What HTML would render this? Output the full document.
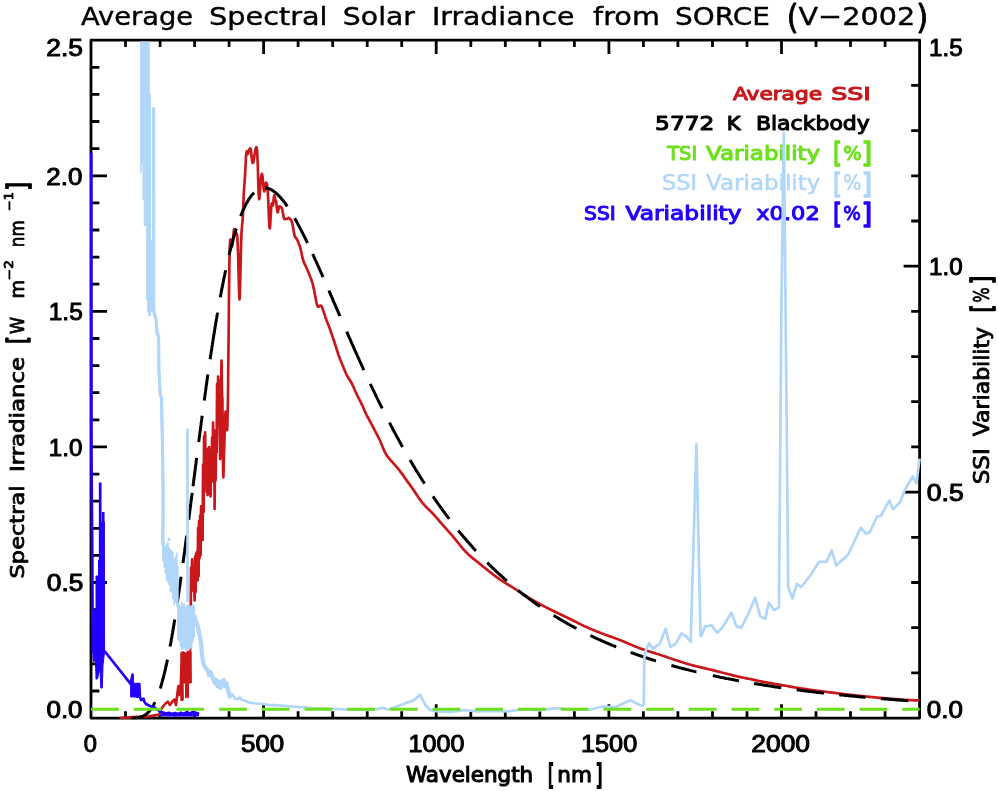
<!DOCTYPE html>
<html><head><meta charset="utf-8"><title>Average Spectral Solar Irradiance from SORCE</title>
<style>html,body{margin:0;padding:0;background:#fff;width:998px;height:791px;overflow:hidden}svg{display:block}</style>
</head><body>
<svg width="998" height="791" viewBox="0 0 998 791">
<rect width="998" height="791" fill="#fff"/>
<defs><clipPath id="pc"><rect x="89.5" y="38.7" width="831.6" height="680.9"/></clipPath><clipPath id="pc2"><rect x="89.5" y="41.4" width="831.6" height="678.2"/></clipPath></defs>
<rect x="91.0" y="40.2" width="828.6" height="677.9" fill="none" stroke="#000" stroke-width="2.8" stroke-linejoin="round"/>
<path d="M125.5 718.1v-6.9M125.5 40.2v6.9M160.1 718.1v-6.9M160.1 40.2v6.9M194.6 718.1v-6.9M194.6 40.2v6.9M229.1 718.1v-6.9M229.1 40.2v6.9M263.6 718.1v-13.8M263.6 40.2v13.8M298.1 718.1v-6.9M298.1 40.2v6.9M332.7 718.1v-6.9M332.7 40.2v6.9M367.2 718.1v-6.9M367.2 40.2v6.9M401.7 718.1v-6.9M401.7 40.2v6.9M436.2 718.1v-13.8M436.2 40.2v13.8M470.8 718.1v-6.9M470.8 40.2v6.9M505.3 718.1v-6.9M505.3 40.2v6.9M539.8 718.1v-6.9M539.8 40.2v6.9M574.4 718.1v-6.9M574.4 40.2v6.9M608.9 718.1v-13.8M608.9 40.2v13.8M643.4 718.1v-6.9M643.4 40.2v6.9M677.9 718.1v-6.9M677.9 40.2v6.9M712.5 718.1v-6.9M712.5 40.2v6.9M747.0 718.1v-6.9M747.0 40.2v6.9M781.5 718.1v-13.8M781.5 40.2v13.8M816.0 718.1v-6.9M816.0 40.2v6.9M850.5 718.1v-6.9M850.5 40.2v6.9M885.1 718.1v-6.9M885.1 40.2v6.9M91.0 691.0h8.4M91.0 663.9h8.4M91.0 636.8h8.4M91.0 609.6h8.4M91.0 582.5h16.0M91.0 555.4h8.4M91.0 528.3h8.4M91.0 501.2h8.4M91.0 474.1h8.4M91.0 446.9h16.0M91.0 419.8h8.4M91.0 392.7h8.4M91.0 365.6h8.4M91.0 338.5h8.4M91.0 311.4h16.0M91.0 284.2h8.4M91.0 257.1h8.4M91.0 230.0h8.4M91.0 202.9h8.4M91.0 175.8h16.0M91.0 148.7h8.4M91.0 121.5h8.4M91.0 94.4h8.4M91.0 67.3h8.4M919.6 672.9h-8.4M919.6 627.7h-8.4M919.6 582.5h-8.4M919.6 537.3h-8.4M919.6 492.1h-16.0M919.6 446.9h-8.4M919.6 401.7h-8.4M919.6 356.6h-8.4M919.6 311.4h-8.4M919.6 266.2h-16.0M919.6 221.0h-8.4M919.6 175.8h-8.4M919.6 130.6h-8.4M919.6 85.4h-8.4" stroke="#000" stroke-width="2.8" fill="none"/>
<g clip-path="url(#pc)" fill="none" stroke-linejoin="round">
<polyline points="119.8,718.0 125.0,717.6 133.0,717.2 149.0,716.3 160.3,714.3 160.5,710.0 163.0,706.5 165.5,703.5 167.8,701.7 170.0,705.0 172.3,701.5 174.5,699.5 176.0,705.0 178.4,686.0 179.5,695.0 180.8,686.0 181.5,666.0 182.5,700.0" stroke="#c8181b" stroke-width="2.7"/>
<polygon points="180.8,652.5 183.5,651.5 185.5,653.0 188.0,651.0 191.0,652.0 191.0,683.0 188.5,683.0 188.5,697.6 185.5,697.6 185.5,683.0 183.0,683.0 183.0,700.5 180.8,700.5" fill="#c8181b" stroke="#c8181b" stroke-width="1"/>
<polyline points="190.5,683.0 190.1,660.0 190.1,624.3 190.6,624.7 191.1,567.7 191.6,586.6 192.1,559.4 192.6,579.2 193.1,571.1 193.6,590.9 194.1,582.7 194.6,600.5 195.1,556.6 195.6,592.2 196.1,553.6 196.6,566.4 197.1,551.6 197.6,580.5 198.1,527.9 198.6,576.2 199.1,521.0 199.6,558.2 200.1,515.5 200.6,555.1 201.1,506.4 201.6,533.3 202.1,507.6 202.6,540.0 203.1,464.7 203.6,512.1 204.1,436.3 204.6,464.9 205.1,432.4 205.6,464.0 206.1,454.4 206.6,491.9 207.1,459.0 207.6,495.1 208.1,448.6 208.6,461.0 209.1,447.1 209.6,493.7 210.1,451.4 210.6,496.5 211.1,463.8 211.6,472.2 212.1,437.5 212.6,463.7 213.1,422.6 213.6,481.9 214.1,430.3 214.6,509.0 215.1,442.1 215.6,480.2 216.1,437.9 216.6,452.4 217.1,383.9 217.6,425.8 218.1,376.7 218.6,404.7 219.1,380.6 219.4,412.0 219.6,425.4 219.8,440.2 220.0,452.8 220.1,459.1 220.3,456.6 220.5,446.3 220.6,432.7 220.8,419.9 221.0,406.8 221.2,389.7 221.3,371.1 221.5,360.6 221.7,365.1 221.8,380.4 222.0,393.9 222.2,397.5 222.4,398.4 222.5,409.5 222.7,430.0 222.9,452.3 223.1,469.4 223.2,477.3 223.4,476.9 223.6,471.3 223.7,464.1 223.9,457.3 224.1,451.2 224.3,446.2 224.4,441.1 224.6,435.7 224.8,430.0 225.0,424.1 225.1,418.9 225.3,414.7 225.5,412.3 225.6,411.7 225.8,411.8 226.0,413.5 226.2,416.4 226.3,420.1 226.5,423.9 226.7,427.3 226.9,429.6 227.0,430.2 227.2,428.8 227.4,425.1 227.5,419.0 227.7,410.4 227.9,399.5 228.1,386.2 228.2,371.0 228.4,354.4 228.6,336.9 228.8,319.4 228.9,302.5 229.1,287.0 229.3,273.5 229.4,262.4 229.6,253.7 229.8,247.4 230.0,243.1 230.1,240.6 230.3,239.6 230.5,239.7 230.7,240.5 230.8,241.9 231.0,243.3 231.2,244.6 231.3,245.7 231.5,246.5 231.7,246.9 231.9,246.9 232.0,246.5 232.2,245.8 232.4,244.8 232.6,243.4 232.7,241.9 232.9,240.1 233.1,238.2 233.2,236.4 233.4,234.5 233.6,232.9 233.8,231.5 233.9,230.4 234.1,229.6 234.3,229.2 234.5,229.2 234.6,229.5 234.8,230.1 235.0,230.9 235.1,231.9 235.3,232.9 235.5,233.7 235.7,234.3 235.8,234.6 236.0,234.5 236.4,234.0 236.7,233.6 237.0,234.6 237.4,238.0 237.7,244.2 238.1,253.7 238.4,266.5 238.8,281.0 239.1,293.4 239.5,299.4 239.8,296.2 240.1,285.1 240.5,269.7 240.8,254.1 241.2,241.3 241.5,232.6 241.9,227.5 242.2,224.3 242.6,220.7 242.9,214.7 243.3,206.5 243.6,198.1 243.9,191.2 244.3,186.0 244.6,181.6 245.0,176.6 245.3,170.3 245.7,163.0 246.0,156.4 246.4,152.9 246.7,151.4 247.1,152.1 247.4,153.5 247.7,154.1 248.1,153.3 248.4,151.8 248.8,150.5 249.1,149.8 249.5,149.3 249.8,148.8 250.2,148.4 250.5,148.6 250.9,150.2 251.2,153.0 251.5,156.4 251.9,159.4 252.2,161.7 252.6,162.9 252.9,163.0 253.3,162.3 253.6,160.7 254.0,158.5 254.3,156.3 254.6,154.0 255.0,152.1 255.3,150.4 255.7,148.9 256.0,147.7 256.4,147.2 256.7,148.2 257.1,151.1 257.4,156.8 257.8,165.7 258.1,176.7 258.4,187.7 258.8,195.9 259.1,199.2 259.5,197.6 259.8,193.0 260.2,187.7 260.5,183.2 260.9,179.6 261.2,176.7 261.6,174.7 261.9,173.9 262.2,174.7 262.6,177.2 262.9,180.9 263.3,184.9 263.6,188.5 264.0,190.7 264.3,191.4 264.7,190.3 265.0,188.0 265.4,185.4 265.7,183.5 266.0,182.7 266.4,182.8 266.7,183.6 267.1,185.1 267.4,187.7 267.8,191.9 268.1,198.0 268.5,205.7 268.8,214.2 269.1,222.0 269.5,227.3 269.8,228.4 270.2,225.3 270.5,219.2 270.9,212.6 271.2,207.3 271.6,204.2 271.9,203.5 272.3,204.6 272.6,205.7 272.9,205.5 273.3,203.1 273.6,199.4 274.0,196.4 274.3,195.4 274.7,196.4 275.0,198.3 275.4,199.6 275.7,200.5 276.1,201.5 276.4,203.4 276.7,206.3 277.1,209.6 277.4,212.0 277.8,212.4 278.1,211.2 278.5,209.3 278.8,207.5 279.2,206.6 279.5,206.4 279.9,206.7 280.2,207.0 280.5,207.2 280.9,207.3 281.2,207.4 281.6,207.7 281.9,208.4 282.3,209.6 282.6,211.4 283.0,213.5 283.3,215.6 283.6,217.3 284.0,218.4 284.3,219.0 284.7,219.1 285.0,219.0 285.4,218.9 285.7,218.8 286.1,218.9 286.4,219.0 286.8,219.0 287.1,218.9 287.4,218.8 287.8,218.5 288.1,218.2 288.5,218.0 288.8,217.9 289.2,218.1 289.5,218.4 289.9,218.8 290.2,219.2 290.6,219.6 290.9,220.1 291.2,220.5 291.6,221.1 291.9,222.0 292.3,223.2 292.6,224.9 293.0,226.9 293.3,229.1 293.7,231.3 294.0,233.2 294.4,234.8 294.7,236.0 295.0,236.8 295.4,237.3 295.7,237.7 296.1,238.0 296.4,238.4 296.8,238.9 297.1,239.5 297.5,240.3 297.8,241.1 298.1,242.0 298.5,242.9 298.8,243.8 299.2,244.7 299.5,245.6 299.9,246.6 300.2,247.8 300.6,249.0 300.9,250.4 301.3,252.0 301.6,253.5 301.9,255.2 302.3,256.8 302.6,258.2 303.0,259.6 303.3,260.8 303.7,261.8 304.0,262.7 304.4,263.4 304.7,264.1 305.1,264.8 305.4,265.5 305.7,266.2 306.1,266.9 306.4,267.6 306.8,268.4 307.1,269.2 307.5,270.1 307.8,270.9 308.2,271.7 308.5,272.6 308.9,273.4 309.2,274.3 309.5,275.1 309.9,276.0 310.2,276.8 310.6,277.7 310.9,278.6 311.3,279.5 311.6,280.5 312.0,281.5 312.3,282.7 312.7,283.9 313.0,285.2 313.3,286.7 313.7,288.2 314.0,289.8 314.4,291.5 314.7,293.3 315.1,295.2 315.4,297.1 315.8,299.0 316.1,300.8 316.4,302.5 316.8,303.9 317.1,305.1 317.5,305.9 317.8,306.5 318.2,306.7 318.5,306.7 318.9,306.5 319.2,306.2 319.6,305.9 319.9,305.7 320.2,305.5 320.6,305.5 320.9,305.7 321.3,306.0 321.6,306.5 322.0,307.2 322.3,308.0 322.7,308.9 323.0,309.8 323.4,310.8 323.7,311.8 324.0,312.9 324.4,313.9 324.7,315.0 325.1,316.1 325.4,317.1 325.8,318.2 326.1,319.1 326.5,320.1 326.8,321.0 327.2,321.9 327.5,322.8 327.8,323.7 328.2,324.5 328.5,325.4 328.9,326.2 329.2,327.1 329.6,328.0 329.9,328.9 330.3,329.9 330.6,330.9 330.9,331.9 331.3,332.9 331.6,333.9 332.0,335.0 332.3,336.0 333.4,339.0 334.4,342.0 335.4,345.2 336.5,348.6 337.5,351.9 338.5,355.1 339.6,357.9 340.6,360.5 341.7,363.0 342.7,365.4 343.7,368.0 344.8,370.6 345.8,373.0 346.8,375.2 347.9,377.0 348.9,378.7 349.9,380.3 351.0,382.0 352.0,383.9 353.0,386.0 354.1,388.4 355.1,390.8 356.2,393.1 357.2,395.3 358.2,397.3 359.3,399.3 360.3,401.3 361.3,403.4 362.4,405.6 363.4,408.0 364.4,410.3 365.5,412.6 366.5,414.8 367.5,416.8 368.6,418.7 369.6,420.6 370.7,422.5 371.7,424.5 372.7,426.5 373.8,428.5 374.8,430.5 375.8,432.5 376.9,434.4 377.9,436.3 378.9,438.3 380.0,440.5 381.0,442.9 382.0,445.5 383.1,448.0 384.1,450.5 385.2,452.6 386.2,454.5 387.2,456.1 388.3,457.4 389.3,458.7 390.3,459.9 391.4,461.0 392.4,462.2 393.4,463.4 394.5,464.5 395.5,465.7 396.5,466.9 397.6,468.1 398.6,469.4 399.7,470.7 400.7,472.1 401.7,473.4 402.8,474.9 403.8,476.3 404.8,477.8 405.9,479.2 406.9,480.7 407.9,482.1 409.0,483.6 410.0,485.0 411.0,486.4 412.1,487.9 413.1,489.4 414.2,490.9 415.2,492.5 416.2,494.1 417.3,495.6 418.3,497.2 419.3,498.7 420.4,500.1 421.4,501.5 422.4,502.8 423.5,504.0 424.5,505.2 425.5,506.3 426.6,507.4 427.6,508.4 428.7,509.4 429.7,510.3 430.7,511.4 431.8,512.4 432.8,513.5 433.8,514.6 434.9,515.8 435.9,517.0 436.9,518.2 438.0,519.4 439.0,520.6 440.0,521.8 441.1,523.0 442.1,524.2 443.2,525.4 444.2,526.5 445.2,527.7 446.3,528.9 447.3,530.0 448.3,531.2 449.4,532.4 450.4,533.5 451.4,534.7 452.5,535.9 453.5,537.2 454.5,538.4 455.6,539.7 456.6,541.0 457.7,542.2 458.7,543.5 459.7,544.8 460.8,546.1 461.8,547.3 462.8,548.6 463.9,549.8 464.9,550.9 465.9,552.1 467.0,553.1 468.0,554.2 469.0,555.1 470.1,556.1 471.1,556.9 472.2,557.8 473.2,558.6 474.2,559.4 475.3,560.2 476.3,561.0 477.3,561.9 478.4,562.7 479.4,563.5 480.4,564.4 481.5,565.2 482.5,566.1 483.5,566.9 484.6,567.7 485.6,568.5 486.7,569.4 487.7,570.2 488.7,571.0 489.8,571.8 490.8,572.6 491.8,573.4 492.9,574.3 493.9,575.0 494.9,575.8 496.0,576.6 497.0,577.4 498.0,578.1 499.1,578.9 500.1,579.6 501.2,580.3 502.2,580.9 503.2,581.6 504.3,582.3 505.3,582.9 506.3,583.6 507.4,584.2 508.4,584.8 509.4,585.4 510.5,586.1 511.5,586.7 512.6,587.3 513.6,588.0 514.6,588.7 515.7,589.3 516.7,590.0 517.7,590.7 518.8,591.4 519.8,592.1 520.8,592.7 521.9,593.4 522.9,594.0 523.9,594.7 525.0,595.3 526.0,596.0 527.1,596.6 528.1,597.3 529.1,597.9 530.2,598.5 531.2,599.2 532.2,599.8 533.3,600.4 534.3,601.0 535.3,601.6 536.4,602.1 537.4,602.7 538.4,603.3 539.5,603.8 540.5,604.4 541.6,604.9 542.6,605.5 543.6,606.0 544.7,606.6 545.7,607.1 546.7,607.7 547.8,608.2 548.8,608.7 549.8,609.3 550.9,609.8 551.9,610.3 552.9,610.8 554.0,611.3 555.0,611.8 556.1,612.3 557.1,612.8 558.1,613.3 559.2,613.8 560.2,614.2 561.2,614.7 562.3,615.2 563.3,615.7 564.3,616.2 565.4,616.7 566.4,617.2 567.4,617.7 568.5,618.2 569.5,618.7 570.6,619.2 571.6,619.8 572.6,620.3 573.7,620.8 574.7,621.3 575.7,621.8 576.8,622.4 577.8,622.9 578.8,623.4 579.9,623.9 580.9,624.4 581.9,624.9 583.0,625.4 584.0,625.9 585.1,626.4 586.1,626.8 587.1,627.3 588.2,627.8 589.2,628.2 590.2,628.7 591.3,629.1 592.3,629.6 593.3,630.0 594.4,630.4 595.4,630.9 596.4,631.3 597.5,631.7 598.5,632.1 599.6,632.5 600.6,632.9 601.6,633.3 602.7,633.7 603.7,634.1 604.7,634.5 605.8,634.9 606.8,635.3 607.8,635.6 608.9,636.0 609.9,636.4 610.9,636.7 612.0,637.1 613.0,637.5 614.1,637.8 615.1,638.2 616.1,638.6 617.2,639.0 618.2,639.3 619.2,639.7 620.3,640.1 621.3,640.6 622.3,641.0 623.4,641.4 624.4,641.8 625.4,642.3 626.5,642.7 627.5,643.2 628.6,643.6 629.6,644.1 630.6,644.5 631.7,644.9 632.7,645.4 633.7,645.8 634.8,646.2 635.8,646.7 636.8,647.1 637.9,647.5 638.9,647.9 639.9,648.3 641.0,648.6 642.0,649.0 643.1,649.4 644.1,649.7 645.1,650.1 646.2,650.4 647.2,650.8 648.2,651.1 649.3,651.4 650.3,651.7 651.3,652.1 652.4,652.4 653.4,652.7 654.4,653.0 655.5,653.4 656.5,653.7 657.6,654.0 658.6,654.3 659.6,654.7 660.7,655.0 661.7,655.3 662.7,655.7 663.8,656.0 664.8,656.4 665.8,656.7 666.9,657.1 667.9,657.5 668.9,657.8 670.0,658.2 671.0,658.5 672.1,658.9 673.1,659.2 674.1,659.6 675.2,659.9 676.2,660.3 677.2,660.6 678.3,661.0 679.3,661.3 680.3,661.6 681.4,662.0 682.4,662.3 683.4,662.6 684.5,663.0 685.5,663.3 686.6,663.6 687.6,663.9 688.6,664.2 689.7,664.5 690.7,664.8 691.7,665.1 692.8,665.4 693.8,665.6 694.8,665.9 695.9,666.2 696.9,666.4 697.9,666.7 699.0,666.9 700.0,667.2 701.1,667.4 702.1,667.6 703.1,667.9 704.2,668.1 705.2,668.4 706.2,668.6 707.3,668.8 708.3,669.1 709.3,669.3 710.4,669.6 711.4,669.8 712.5,670.1 713.5,670.4 714.5,670.6 715.6,670.9 716.6,671.2 717.6,671.4 718.7,671.7 719.7,671.9 720.7,672.2 721.8,672.5 722.8,672.7 723.8,673.0 724.9,673.3 725.9,673.5 727.0,673.8 728.0,674.1 729.0,674.3 730.1,674.6 731.1,674.9 732.1,675.1 733.2,675.4 734.2,675.6 735.2,675.9 736.3,676.1 737.3,676.4 738.3,676.6 739.4,676.8 740.4,677.1 741.5,677.3 742.5,677.5 743.5,677.7 744.6,677.9 745.6,678.2 746.6,678.4 747.7,678.6 748.7,678.8 749.7,679.0 750.8,679.2 751.8,679.4 752.8,679.7 753.9,679.9 754.9,680.1 756.0,680.3 757.0,680.6 758.0,680.8 759.1,681.0 760.1,681.2 761.1,681.4 762.2,681.6 763.2,681.8 764.2,682.0 765.3,682.2 766.3,682.4 767.3,682.6 768.4,682.8 769.4,683.0 770.5,683.2 771.5,683.3 772.5,683.5 773.6,683.7 774.6,683.9 775.6,684.0 776.7,684.2 777.7,684.4 778.7,684.6 779.8,684.7 780.8,684.9 781.8,685.1 782.9,685.3 783.9,685.5 785.0,685.6 786.0,685.8 787.0,686.0 788.1,686.2 789.1,686.4 790.1,686.6 791.2,686.8 792.2,686.9 793.2,687.1 794.3,687.3 795.3,687.5 796.3,687.6 797.4,687.8 798.4,688.0 799.5,688.2 800.5,688.3 801.5,688.5 802.6,688.6 803.6,688.8 804.6,688.9 805.7,689.1 806.7,689.2 807.7,689.4 808.8,689.5 809.8,689.7 810.8,689.8 811.9,690.0 812.9,690.1 814.0,690.3 815.0,690.4 816.0,690.5 817.1,690.7 818.1,690.8 819.1,690.9 820.2,691.1 821.2,691.2 822.2,691.4 823.3,691.5 824.3,691.6 825.3,691.8 826.4,691.9 827.4,692.0 828.5,692.2 829.5,692.3 830.5,692.4 831.6,692.6 832.6,692.7 833.6,692.8 834.7,692.9 835.7,693.1 836.7,693.2 837.8,693.3 838.8,693.5 839.8,693.6 840.9,693.7 841.9,693.8 843.0,694.0 844.0,694.1 845.0,694.2 846.1,694.3 847.1,694.4 848.1,694.5 849.2,694.7 850.2,694.8 851.2,694.9 852.3,695.0 853.3,695.1 854.3,695.3 855.4,695.4 856.4,695.5 857.5,695.6 858.5,695.7 859.5,695.8 860.6,695.9 861.6,696.1 862.6,696.2 863.7,696.3 864.7,696.4 865.7,696.5 866.8,696.6 867.8,696.7 868.8,696.8 869.9,696.9 870.9,697.0 872.0,697.1 873.0,697.2 874.0,697.3 875.1,697.4 876.1,697.5 877.1,697.6 878.2,697.7 879.2,697.8 880.2,697.9 881.3,698.0 882.3,698.1 883.3,698.2 884.4,698.2 885.4,698.3 886.5,698.4 887.5,698.5 888.5,698.6 889.6,698.7 890.6,698.8 891.6,698.8 892.7,698.9 893.7,699.0 894.7,699.1 895.8,699.2 896.8,699.2 897.8,699.3 898.9,699.4 899.9,699.5 901.0,699.5 902.0,699.6 903.0,699.7 904.1,699.8 905.1,699.8 906.1,699.9 907.2,699.9 908.2,700.0 909.2,700.1 910.3,700.1 911.3,700.2 912.3,700.2 913.4,700.3 914.4,700.3 915.5,700.3 916.5,700.4 917.5,700.4 918.6,700.5 919.6,700.5" stroke="#c8181b" stroke-width="2.7"/>
<path d="M131.6 718.0 L132.8 718.0 L134.0 717.9 L135.2 717.9 L136.4 717.7 L137.6 717.6 L138.6 717.4 L139.7 717.2 L140.7 716.9 L141.8 716.6 L142.8 716.2 L143.7 715.8 L144.5 715.3 L145.4 714.8 L146.2 714.2 L146.9 713.6 L147.6 713.0 L148.3 712.4 L149.0 711.6 L149.7 710.8 L150.4 710.0 L150.9 709.3 L151.4 708.5 L151.9 707.8 L152.5 706.9 L153.0 706.1 L153.5 705.2 L154.0 704.2 L154.5 703.2 L155.0 702.1M160.2 688.5 L160.6 687.4 L160.9 686.2 L161.3 685.1 L161.6 683.9 L161.9 682.7 L162.3 681.4 L162.6 680.1 L163.0 678.8 L163.3 677.5 L163.7 676.2 L164.0 674.8 L164.4 673.4 L164.7 672.0 L165.1 670.5 L165.4 669.0 L165.7 667.5 L166.1 666.0 L166.4 664.4 L166.8 662.8 L167.1 661.2 L167.5 659.6M170.1 646.5 L170.4 644.6 L170.8 642.8 L171.1 640.9 L171.4 638.9 L171.8 637.0 L172.1 635.0 L172.5 633.0 L172.8 631.0 L173.2 629.0 L173.3 627.9 L173.5 626.9 L173.7 625.9 L173.9 624.8 L174.0 623.8 L174.2 622.7 L174.4 621.7 L174.6 620.6 L174.7 619.5M177.3 602.9 L177.5 601.7 L177.7 600.6 L177.8 599.4 L178.0 598.2 L178.2 597.1 L178.3 595.9 L178.5 594.7 L178.7 593.6 L178.9 592.4 L179.0 591.2 L179.2 590.0 L179.4 588.8 L179.6 587.6 L179.7 586.4 L179.9 585.2 L180.1 584.0 L180.2 582.8 L180.4 581.6 L180.6 580.3 L180.8 579.1 L180.9 577.9 L181.1 576.7M183.0 562.9 L183.2 561.6 L183.4 560.3 L183.5 559.1 L183.7 557.8 L183.9 556.5 L184.0 555.2 L184.2 553.9 L184.4 552.7 L184.6 551.4 L184.7 550.1 L184.9 548.8 L185.1 547.5 L185.3 546.2 L185.4 544.9 L185.6 543.6 L185.8 542.3 L185.9 541.0 L186.1 539.7 L186.3 538.3 L186.5 537.0 L186.6 535.7M188.7 519.8 L188.9 518.5 L189.1 517.1 L189.2 515.8 L189.4 514.4 L189.6 513.1 L189.7 511.8 L189.9 510.4 L190.1 509.1 L190.3 507.7 L190.4 506.4 L190.6 505.1 L190.8 503.7 L190.9 502.4 L191.1 501.0 L191.3 499.7 L191.5 498.3 L191.6 497.0 L191.8 495.6 L192.0 494.3 L192.2 492.9M193.0 486.2 L193.2 484.8 L193.4 483.5 L193.5 482.1 L193.7 480.8 L193.9 479.4 L194.1 478.1 L194.2 476.7 L194.4 475.4 L194.6 474.1 L194.7 472.7 L194.9 471.4 L195.1 470.0 L195.3 468.7 L195.4 467.3 L195.6 466.0 L195.8 464.6 L196.0 463.3 L196.1 462.0 L196.3 460.6 L196.5 459.3 L196.6 457.9M198.7 442.0 L198.9 440.6 L199.1 439.3 L199.2 438.0 L199.4 436.7 L199.6 435.4 L199.8 434.0 L199.9 432.7 L200.1 431.4 L200.3 430.1 L200.4 428.8 L200.6 427.5 L200.8 426.2 L201.0 424.9 L201.1 423.6 L201.3 422.3 L201.5 421.0 L201.7 419.7 L201.8 418.4 L202.0 417.1 L202.2 415.8M204.2 400.5 L204.4 399.3 L204.6 398.0 L204.8 396.7 L204.9 395.5 L205.1 394.2 L205.3 393.0 L205.5 391.7 L205.6 390.5 L205.8 389.3 L206.0 388.0 L206.1 386.8 L206.3 385.6 L206.5 384.3 L206.7 383.1 L206.8 381.9 L207.0 380.7 L207.2 379.5 L207.3 378.3 L207.5 377.0 L207.7 375.8 L207.9 374.6M210.1 359.3 L210.3 358.1 L210.5 357.0 L210.6 355.8 L210.8 354.7 L211.0 353.5 L211.1 352.4 L211.3 351.2 L211.5 350.1 L211.7 349.0 L211.8 347.9 L212.0 346.7 L212.2 345.6 L212.4 344.5 L212.5 343.4 L212.7 342.3 L212.9 341.2 L213.0 340.1 L213.2 339.0 L213.4 337.9 L213.6 336.8 L213.7 335.7 L213.9 334.6 L214.1 333.5 L214.3 332.5 L214.4 331.4 L214.6 330.3 L214.8 329.2 L214.9 328.2 L215.1 327.1 L215.3 326.1 L215.5 325.0 L215.6 324.0 L215.8 322.9 L216.0 321.9 L216.2 320.9 L216.3 319.8 L216.7 317.8 L217.0 315.8 L217.4 313.7 L217.5 312.7M220.3 297.3 L220.6 295.4 L221.0 293.5 L221.3 291.7 L221.7 289.9 L222.0 288.1 L222.4 286.3 L222.7 284.6 L223.1 282.8 L223.4 281.1 L223.7 279.4 L224.1 277.7 L224.4 276.0 L224.8 274.3 L225.1 272.7 L225.5 271.1 L225.6 270.3M229.1 255.0 L229.4 253.6 L229.8 252.2 L230.1 250.8 L230.5 249.4 L230.8 248.0 L231.2 246.7 L231.5 245.3 L231.9 244.0 L232.2 242.7 L232.6 241.5 L232.9 240.2 L233.2 238.9 L233.6 237.7 L233.9 236.5 L234.3 235.3 L234.6 234.1 L235.0 233.0 L235.3 231.8 L235.7 230.7 L236.0 229.6 L236.4 228.5M240.7 216.1 L241.0 215.2 L241.4 214.4 L241.9 213.1 L242.4 211.9 L242.9 210.7 L243.4 209.5 L243.9 208.4 L244.5 207.3 L245.0 206.2 L245.5 205.2 L246.0 204.2 L246.5 203.2 L247.1 202.3 L247.6 201.3 L248.1 200.5 L248.6 199.6 L249.1 198.8 L249.6 198.1 L250.2 197.3 L250.7 196.6 L251.2 195.9 L251.9 195.0 L252.6 194.2 L253.3 193.5 L254.0 192.7 L254.1 192.6M265.0 187.8 L266.2 187.9 L267.3 188.1 L268.3 188.4 L269.3 188.8 L270.2 189.2 L271.0 189.6 L271.9 190.1 L272.8 190.6 L273.6 191.2 L274.5 191.8 L275.2 192.4 L275.9 193.0 L276.6 193.6 L277.3 194.2 L278.0 194.9 L278.6 195.6 L279.3 196.3 L280.0 197.0 L280.7 197.8 L281.4 198.6 L282.1 199.4 L282.8 200.3 L283.5 201.1 L284.2 202.0 L284.7 202.7 L285.2 203.4 L285.7 204.1 L286.2 204.9 L286.8 205.6 L287.3 206.3M294.7 218.3 L295.2 219.2 L295.7 220.1 L296.3 221.1 L296.8 222.0 L297.3 222.9 L297.8 223.9 L298.3 224.8 L298.8 225.8 L299.4 226.8 L299.9 227.8 L300.4 228.8 L300.9 229.8 L301.4 230.8 L301.9 231.8 L302.5 232.8 L303.0 233.8 L303.5 234.9 L304.0 235.9 L304.5 236.9 L305.1 238.0 L305.6 239.0 L306.1 240.1 L306.6 241.2 L307.1 242.2 L307.5 243.0M312.7 254.0 L313.2 255.1 L313.7 256.2 L314.2 257.4 L314.7 258.5 L315.2 259.6 L315.8 260.8 L316.3 261.9 L316.8 263.1 L317.3 264.2 L317.8 265.4 L318.3 266.5 L318.9 267.7 L319.4 268.9 L319.9 270.0 L320.4 271.2 L320.9 272.4 L321.5 273.5 L322.0 274.7 L322.5 275.9 L323.0 277.1M328.9 290.5 L329.4 291.7 L329.9 292.9 L330.4 294.1 L330.9 295.3 L331.5 296.5 L332.0 297.7 L332.5 298.9 L333.0 300.1 L333.5 301.3 L334.1 302.5 L334.6 303.7 L335.1 304.9 L335.6 306.1 L336.1 307.3 L336.6 308.5 L337.2 309.7 L337.7 310.9 L338.2 312.1 L338.7 313.3 L339.2 314.5 L339.8 315.7 L339.9 316.1M346.7 331.6 L347.2 332.7 L347.7 333.9 L348.2 335.1 L348.7 336.3 L349.2 337.5 L349.8 338.6 L350.3 339.8 L350.8 341.0 L351.3 342.2 L351.8 343.3 L352.4 344.5 L352.9 345.7 L353.4 346.8 L353.9 348.0 L354.4 349.2 L354.9 350.3 L355.5 351.5 L356.0 352.7 L356.5 353.8 L357.0 355.0 L357.5 356.1 L358.1 357.3 L358.6 358.4 L359.1 359.6 L359.6 360.7 L360.1 361.9 L360.6 363.0 L361.2 364.1 L361.7 365.3 L362.2 366.4 L362.7 367.5 L363.2 368.7 L363.7 369.8 L363.9 370.2M370.3 383.9 L370.8 385.0 L371.3 386.1 L371.9 387.2 L372.4 388.3 L372.9 389.3 L373.4 390.4 L373.9 391.5 L374.5 392.6 L375.0 393.7 L375.5 394.7 L376.0 395.8 L376.5 396.9 L377.0 397.9 L377.6 399.0 L378.1 400.1 L378.6 401.1 L379.1 402.2 L379.6 403.2 L380.1 404.3 L380.7 405.3 L381.2 406.4 L381.7 407.4 L382.2 408.4M389.5 422.7 L390.0 423.7 L390.5 424.7 L391.0 425.7 L391.5 426.6 L392.1 427.6 L392.6 428.6 L393.1 429.6 L393.6 430.6 L394.1 431.5 L394.6 432.5 L395.2 433.5 L395.7 434.4 L396.2 435.4 L396.7 436.4 L397.2 437.3 L397.8 438.3 L398.3 439.2 L398.8 440.2 L399.3 441.1 L399.8 442.1 L400.3 443.0 L400.9 443.9 L401.4 444.9 L401.9 445.8 L402.4 446.7 L402.6 447.0M410.0 460.0 L410.5 460.9 L411.0 461.7 L411.6 462.6 L412.1 463.5 L412.6 464.4 L413.1 465.2 L413.6 466.1 L414.2 466.9 L414.7 467.8 L415.2 468.7 L415.7 469.5 L416.2 470.4 L416.7 471.2 L417.3 472.1 L417.8 472.9 L418.3 473.7 L418.8 474.6 L419.3 475.4 L419.9 476.2 L420.4 477.1 L420.9 477.9 L421.4 478.7 L421.9 479.5 L422.4 480.4 L423.0 481.2 L423.5 482.0 L424.0 482.8 L424.5 483.6M433.0 496.4 L433.5 497.1 L434.0 497.9 L434.5 498.6 L435.0 499.4 L435.6 500.1 L436.1 500.9 L436.6 501.6 L437.1 502.4 L437.6 503.1 L438.1 503.8 L438.7 504.6 L439.2 505.3 L439.7 506.0 L440.2 506.7 L440.7 507.5 L441.3 508.2 L441.8 508.9 L442.3 509.6 L442.8 510.3 L443.3 511.0 L443.8 511.7 L444.4 512.4 L444.9 513.1 L445.4 513.8 L445.9 514.5 L446.4 515.2 L447.0 515.9 L447.5 516.6 L448.0 517.3 L448.5 518.0 L449.2 518.9M458.3 530.5 L459.0 531.4 L459.7 532.2 L460.4 533.0 L461.1 533.9 L461.8 534.7 L462.5 535.5 L463.2 536.4 L463.9 537.2 L464.6 538.0 L465.3 538.8 L465.9 539.6 L466.6 540.4 L467.3 541.2 L468.0 542.0 L468.7 542.8 L469.4 543.6 L470.1 544.4 L470.8 545.1 L471.5 545.9 L472.2 546.7 L472.8 547.5 L473.5 548.2 L474.2 549.0 L474.9 549.7 L475.6 550.5 L476.0 550.9M487.2 562.6 L487.9 563.2 L488.6 563.9 L489.2 564.6 L489.9 565.3 L490.6 566.0 L491.3 566.6 L492.0 567.3 L492.7 568.0 L493.4 568.6 L494.1 569.3 L494.8 569.9 L495.5 570.6 L496.2 571.3 L496.8 571.9 L497.5 572.5 L498.2 573.2 L498.9 573.8 L499.6 574.4 L500.3 575.1 L501.0 575.7 L501.7 576.3 L502.4 577.0 L503.1 577.6 L503.7 578.2 L504.4 578.8 L505.1 579.4 L505.8 580.0 L506.5 580.6 L506.9 580.9M518.2 590.4 L518.9 591.0 L519.6 591.5 L520.3 592.1 L521.0 592.6 L521.7 593.1 L522.4 593.7 L523.1 594.2 L523.8 594.7 L524.5 595.3 L525.2 595.8 L525.8 596.3 L526.5 596.8 L527.2 597.4 L527.9 597.9 L528.6 598.4 L529.3 598.9 L530.2 599.5 L531.0 600.2 L531.9 600.8 L532.7 601.4 L533.6 602.0 L534.5 602.7 L535.3 603.3 L536.2 603.9 L537.1 604.5 L537.9 605.1 L538.8 605.7 L539.7 606.3 L540.0 606.5M553.6 615.4 L554.5 615.9 L555.4 616.5 L556.2 617.0 L557.1 617.5 L558.0 618.0 L558.8 618.6 L559.7 619.1 L560.5 619.6 L561.4 620.1 L562.3 620.6 L563.1 621.1 L564.0 621.6 L564.9 622.1 L565.7 622.6 L566.6 623.1 L567.4 623.6 L568.3 624.1 L569.2 624.5 L570.0 625.0 L570.9 625.5 L571.8 626.0 L572.6 626.4 L573.5 626.9 L574.4 627.4 L575.2 627.8 L576.1 628.3 L576.4 628.5M590.4 635.5 L591.3 635.9 L592.1 636.3 L593.0 636.7 L593.9 637.2 L594.7 637.6 L595.6 638.0 L596.4 638.4 L597.3 638.8 L598.2 639.1 L599.0 639.5 L599.9 639.9 L600.8 640.3 L601.6 640.7 L602.5 641.1 L603.4 641.5 L604.2 641.8 L605.1 642.2 L605.9 642.6 L606.8 643.0 L607.7 643.3 L608.5 643.7 L609.4 644.1 L610.3 644.4 L611.1 644.8 L612.0 645.1 L612.8 645.5 L613.7 645.9 L614.6 646.2 L615.4 646.6 L616.3 646.9M630.6 652.4 L631.7 652.8 L632.7 653.1 L633.7 653.5 L634.8 653.9 L635.8 654.3 L636.8 654.6 L637.9 655.0 L638.9 655.3 L639.9 655.7 L641.0 656.0 L642.0 656.4 L643.1 656.8 L644.1 657.1 L645.1 657.4 L646.2 657.8 L647.2 658.1 L648.2 658.5 L649.3 658.8 L650.3 659.1 L651.3 659.5 L652.4 659.8 L653.4 660.1 L654.4 660.4 L655.5 660.8 L656.0 660.9M671.4 665.4 L672.4 665.7 L673.4 666.0 L674.5 666.3 L675.5 666.6 L676.5 666.9 L677.6 667.1 L678.6 667.4 L679.7 667.7 L680.7 668.0 L681.7 668.2 L682.8 668.5 L683.8 668.8 L684.8 669.0 L685.9 669.3 L686.9 669.6 L687.9 669.8 L689.0 670.1 L690.0 670.4 L691.0 670.6 L692.1 670.9 L693.1 671.1 L694.2 671.4 L695.2 671.6 L696.2 671.9 L696.4 671.9M712.8 675.6 L713.8 675.8 L714.9 676.1 L715.9 676.3 L716.9 676.5 L718.0 676.7 L719.0 676.9 L720.0 677.2 L721.1 677.4 L722.1 677.6 L723.2 677.8 L724.2 678.0 L725.2 678.2 L726.3 678.4 L727.3 678.6 L728.3 678.8 L729.4 679.0 L730.4 679.2 L731.4 679.4 L732.5 679.6 L733.5 679.8 L734.5 680.0 L735.6 680.2 L736.6 680.4 L737.7 680.6 L738.7 680.8 L738.9 680.8M754.1 683.5 L755.1 683.7 L756.1 683.8 L757.2 684.0 L758.2 684.2 L759.2 684.3 L760.3 684.5 L761.3 684.7 L762.3 684.8 L763.4 685.0 L764.6 685.2 L765.8 685.4 L767.0 685.6 L768.2 685.8 L769.4 685.9 L770.6 686.1 L771.8 686.3 L773.0 686.5 L774.2 686.7 L775.5 686.9 L776.7 687.0 L777.9 687.2 L779.1 687.4 L780.3 687.6 L781.3 687.7M796.7 689.8 L797.9 690.0 L799.1 690.1 L800.3 690.3 L801.5 690.4 L802.7 690.6 L803.9 690.7 L805.1 690.9 L806.4 691.1 L807.6 691.2 L808.8 691.3 L810.0 691.5 L811.2 691.6 L812.4 691.8 L813.6 691.9 L814.8 692.1 L816.0 692.2 L817.2 692.4 L818.4 692.5 L819.7 692.6 L820.9 692.8 L822.1 692.9 L823.3 693.1 L824.0 693.1M839.2 694.8 L840.4 694.9 L841.6 695.0 L842.8 695.1 L844.0 695.3 L845.2 695.4 L846.4 695.5 L847.6 695.6 L848.8 695.7 L850.0 695.9 L851.2 696.0 L852.4 696.1 L853.7 696.2 L854.9 696.3 L856.1 696.4 L857.3 696.6 L858.5 696.7 L859.7 696.8 L860.9 696.9 L862.1 697.0 L863.3 697.1 L864.5 697.2 L865.6 697.3M880.9 698.6 L882.1 698.7 L883.3 698.8 L884.6 698.9 L885.8 699.0 L887.0 699.1 L888.2 699.2 L889.4 699.3 L890.6 699.4 L891.8 699.5 L893.0 699.6 L894.2 699.7 L895.4 699.8 L896.6 699.9 L897.8 700.0 L899.1 700.1 L900.3 700.2 L901.5 700.3 L902.7 700.3 L903.9 700.4 L905.1 700.5 L906.3 700.6 L907.5 700.7 L908.2 700.7" stroke="#000" stroke-width="3"/>
<polygon points="130.6,683.4 140.0,683.4 140.0,697.0 130.6,697.0" fill="#2200ff" stroke="#2200ff" stroke-width="1"/>
<polygon points="96.0,576.0 98.5,576.0 98.5,560.0 101.2,560.0 101.2,522.0 104.3,522.0 104.6,651.6 103.0,665.0 102.3,688.0 100.8,688.0 100.0,668.0 97.5,679.0 96.0,679.0" fill="#2200ff" stroke="#2200ff" stroke-width="1"/>
<polygon points="92.5,610.0 96.5,610.0 96.5,679.0 95.2,660.0 93.5,662.0 92.5,650.0" fill="#2200ff" stroke="#2200ff" stroke-width="1"/>
<polyline points="160.0,715.0 165.0,715.2 170.0,714.8 175.0,715.3 180.0,714.8 185.0,715.2 190.0,714.8 195.0,715.2 199.0,715.0" stroke="#2200ff" stroke-width="2.7"/>
<polyline points="91.2,152.8 91.4,450.0 92.3,560.0 92.7,650.0" stroke="#2200ff" stroke-width="2.7"/>
<polyline points="100.2,482.5 100.2,590.0" stroke="#2200ff" stroke-width="2.7"/>
<polyline points="103.2,511.9 103.2,590.0" stroke="#2200ff" stroke-width="2.7"/>
<polyline points="104.5,651.0 130.8,684.1" stroke="#2200ff" stroke-width="2.7"/>
<polyline points="130.6,683.5 132.6,674.6 132.6,690.0 134.0,684.0 135.0,696.0 136.5,684.0 137.5,697.0 139.0,684.0 140.0,697.0 141.0,700.0 143.5,698.7 144.5,702.0 146.0,704.0 148.0,705.0 150.0,706.0 152.5,707.0 155.0,707.8 157.0,709.5 160.0,711.5 163.0,712.5 166.0,713.5 169.0,712.8 172.0,714.0 175.0,713.0 178.0,714.0 181.0,712.8 184.0,713.8 187.0,711.8 189.0,713.5 191.0,713.0 193.0,711.8 195.0,713.5 197.0,713.0 199.0,714.0" stroke="#2200ff" stroke-width="2.7"/>
</g>
<text x="80.90" y="25.30" font-family='"DejaVu Sans", "Liberation Sans", sans-serif' font-size="24.66" textLength="112.18" lengthAdjust="spacingAndGlyphs" fill="#000" stroke="#000" stroke-width="0.40" stroke-linejoin="round">Average</text>
<text x="209.04" y="25.30" font-family='"DejaVu Sans", "Liberation Sans", sans-serif' font-size="24.66" textLength="118.56" lengthAdjust="spacingAndGlyphs" fill="#000" stroke="#000" stroke-width="0.40" stroke-linejoin="round">Spectral</text>
<text x="342.85" y="25.30" font-family='"DejaVu Sans", "Liberation Sans", sans-serif' font-size="24.66" textLength="72.17" lengthAdjust="spacingAndGlyphs" fill="#000" stroke="#000" stroke-width="0.40" stroke-linejoin="round">Solar</text>
<text x="431.91" y="25.30" font-family='"DejaVu Sans", "Liberation Sans", sans-serif' font-size="24.66" textLength="142.46" lengthAdjust="spacingAndGlyphs" fill="#000" stroke="#000" stroke-width="0.40" stroke-linejoin="round">Irradiance</text>
<text x="593.10" y="25.30" font-family='"DejaVu Sans", "Liberation Sans", sans-serif' font-size="24.66" textLength="66.78" lengthAdjust="spacingAndGlyphs" fill="#000" stroke="#000" stroke-width="0.40" stroke-linejoin="round">from</text>
<text x="674.97" y="25.30" font-family='"DejaVu Sans", "Liberation Sans", sans-serif' font-size="24.66" textLength="94.80" lengthAdjust="spacingAndGlyphs" fill="#000" stroke="#000" stroke-width="0.40" stroke-linejoin="round">SORCE</text>
<text x="786.72" y="28.90" font-family='"DejaVu Sans", "Liberation Sans", sans-serif' font-size="33.93" textLength="11.76" lengthAdjust="spacingAndGlyphs" fill="#000" stroke="#000" stroke-width="0.90" stroke-linejoin="round">(</text>
<text x="798.50" y="25.30" font-family='"DejaVu Sans", "Liberation Sans", sans-serif' font-size="24.66" textLength="116.65" lengthAdjust="spacingAndGlyphs" fill="#000" stroke="#000" stroke-width="0.40" stroke-linejoin="round">V&#8722;2002</text>
<text x="916.18" y="28.90" font-family='"DejaVu Sans", "Liberation Sans", sans-serif' font-size="33.93" textLength="12.06" lengthAdjust="spacingAndGlyphs" fill="#000" stroke="#000" stroke-width="0.90" stroke-linejoin="round">)</text>
<text x="733.00" y="99.50" font-family='"DejaVu Sans", "Liberation Sans", sans-serif' font-size="17.81" textLength="89.01" lengthAdjust="spacingAndGlyphs" fill="#c8181b" stroke="#c8181b" stroke-width="1.10" stroke-linejoin="round">Average</text>
<text x="831.18" y="99.50" font-family='"DejaVu Sans", "Liberation Sans", sans-serif' font-size="17.81" textLength="39.62" lengthAdjust="spacingAndGlyphs" fill="#c8181b" stroke="#c8181b" stroke-width="1.10" stroke-linejoin="round">SSI</text>
<text x="655.14" y="129.70" font-family='"DejaVu Sans", "Liberation Sans", sans-serif' font-size="20.14" textLength="59.16" lengthAdjust="spacingAndGlyphs" fill="#000" stroke="#000" stroke-width="1.10" stroke-linejoin="round">5772</text>
<text x="726.66" y="129.70" font-family='"DejaVu Sans", "Liberation Sans", sans-serif' font-size="20.14" textLength="13.71" lengthAdjust="spacingAndGlyphs" fill="#000" stroke="#000" stroke-width="1.10" stroke-linejoin="round">K</text>
<text x="755.91" y="129.70" font-family='"DejaVu Sans", "Liberation Sans", sans-serif' font-size="20.14" textLength="113.95" lengthAdjust="spacingAndGlyphs" fill="#000" stroke="#000" stroke-width="1.10" stroke-linejoin="round">Blackbody</text>
<text x="667.17" y="159.90" font-family='"DejaVu Sans", "Liberation Sans", sans-serif' font-size="20.14" textLength="29.98" lengthAdjust="spacingAndGlyphs" fill="#6ce01c" stroke="#6ce01c" stroke-width="1.10" stroke-linejoin="round">TSI</text>
<text x="706.10" y="159.90" font-family='"DejaVu Sans", "Liberation Sans", sans-serif' font-size="20.14" textLength="114.01" lengthAdjust="spacingAndGlyphs" fill="#6ce01c" stroke="#6ce01c" stroke-width="1.10" stroke-linejoin="round">Variability</text>
<text x="832.90" y="163.30" font-family='"DejaVu Sans", "Liberation Sans", sans-serif' font-size="28.31" textLength="8.84" lengthAdjust="spacingAndGlyphs" fill="#6ce01c" stroke="#6ce01c" stroke-width="1.50" stroke-linejoin="round">[</text>
<text x="843.14" y="159.90" font-family='"DejaVu Sans", "Liberation Sans", sans-serif' font-size="20.14" textLength="18.45" lengthAdjust="spacingAndGlyphs" fill="#6ce01c" stroke="#6ce01c" stroke-width="1.10" stroke-linejoin="round">%</text>
<text x="861.46" y="163.30" font-family='"DejaVu Sans", "Liberation Sans", sans-serif' font-size="28.31" textLength="10.73" lengthAdjust="spacingAndGlyphs" fill="#6ce01c" stroke="#6ce01c" stroke-width="1.50" stroke-linejoin="round">]</text>
<text x="662.13" y="190.10" font-family='"DejaVu Sans", "Liberation Sans", sans-serif' font-size="20.96" textLength="34.97" lengthAdjust="spacingAndGlyphs" fill="#b0d6fa" stroke="#b0d6fa" stroke-width="0.50" stroke-linejoin="round">SSI</text>
<text x="706.10" y="190.10" font-family='"DejaVu Sans", "Liberation Sans", sans-serif' font-size="20.96" textLength="114.12" lengthAdjust="spacingAndGlyphs" fill="#b0d6fa" stroke="#b0d6fa" stroke-width="0.50" stroke-linejoin="round">Variability</text>
<text x="832.90" y="193.50" font-family='"DejaVu Sans", "Liberation Sans", sans-serif' font-size="28.31" textLength="8.84" lengthAdjust="spacingAndGlyphs" fill="#b0d6fa" stroke="#b0d6fa" stroke-width="1.50" stroke-linejoin="round">[</text>
<text x="843.19" y="190.10" font-family='"DejaVu Sans", "Liberation Sans", sans-serif' font-size="20.96" textLength="18.15" lengthAdjust="spacingAndGlyphs" fill="#b0d6fa" stroke="#b0d6fa" stroke-width="0.50" stroke-linejoin="round">%</text>
<text x="861.46" y="193.50" font-family='"DejaVu Sans", "Liberation Sans", sans-serif' font-size="28.31" textLength="10.73" lengthAdjust="spacingAndGlyphs" fill="#b0d6fa" stroke="#b0d6fa" stroke-width="1.50" stroke-linejoin="round">]</text>
<text x="584.00" y="220.40" font-family='"DejaVu Sans", "Liberation Sans", sans-serif' font-size="20.27" textLength="31.83" lengthAdjust="spacingAndGlyphs" fill="#2200ff" stroke="#2200ff" stroke-width="1.10" stroke-linejoin="round">SSI</text>
<text x="625.60" y="220.40" font-family='"DejaVu Sans", "Liberation Sans", sans-serif' font-size="20.27" textLength="115.97" lengthAdjust="spacingAndGlyphs" fill="#2200ff" stroke="#2200ff" stroke-width="1.10" stroke-linejoin="round">Variability</text>
<text x="756.30" y="220.40" font-family='"DejaVu Sans", "Liberation Sans", sans-serif' font-size="20.27" textLength="63.45" lengthAdjust="spacingAndGlyphs" fill="#2200ff" stroke="#2200ff" stroke-width="1.10" stroke-linejoin="round">x0.02</text>
<text x="832.90" y="223.70" font-family='"DejaVu Sans", "Liberation Sans", sans-serif' font-size="28.43" textLength="8.88" lengthAdjust="spacingAndGlyphs" fill="#2200ff" stroke="#2200ff" stroke-width="1.50" stroke-linejoin="round">[</text>
<text x="843.19" y="220.40" font-family='"DejaVu Sans", "Liberation Sans", sans-serif' font-size="20.27" textLength="17.55" lengthAdjust="spacingAndGlyphs" fill="#2200ff" stroke="#2200ff" stroke-width="1.10" stroke-linejoin="round">%</text>
<text x="861.46" y="223.70" font-family='"DejaVu Sans", "Liberation Sans", sans-serif' font-size="28.43" textLength="10.78" lengthAdjust="spacingAndGlyphs" fill="#2200ff" stroke="#2200ff" stroke-width="1.50" stroke-linejoin="round">]</text>
<text x="83.70" y="752.10" font-family='"Liberation Sans", "DejaVu Sans", sans-serif' font-size="23.38" textLength="13.22" lengthAdjust="spacingAndGlyphs" fill="#000" stroke="#000" stroke-width="1.00" stroke-linejoin="round">0</text>
<text x="240.99" y="752.10" font-family='"Liberation Sans", "DejaVu Sans", sans-serif' font-size="23.38" textLength="43.23" lengthAdjust="spacingAndGlyphs" fill="#000" stroke="#000" stroke-width="1.00" stroke-linejoin="round">500</text>
<text x="408.63" y="752.10" font-family='"Liberation Sans", "DejaVu Sans", sans-serif' font-size="23.38" textLength="55.79" lengthAdjust="spacingAndGlyphs" fill="#000" stroke="#000" stroke-width="1.00" stroke-linejoin="round">1000</text>
<text x="581.02" y="752.10" font-family='"Liberation Sans", "DejaVu Sans", sans-serif' font-size="23.38" textLength="56.20" lengthAdjust="spacingAndGlyphs" fill="#000" stroke="#000" stroke-width="1.00" stroke-linejoin="round">1500</text>
<text x="751.37" y="752.10" font-family='"Liberation Sans", "DejaVu Sans", sans-serif' font-size="23.38" textLength="58.65" lengthAdjust="spacingAndGlyphs" fill="#000" stroke="#000" stroke-width="1.00" stroke-linejoin="round">2000</text>
<text x="46.50" y="718.30" font-family='"Liberation Sans", "DejaVu Sans", sans-serif' font-size="23.94" textLength="36.00" lengthAdjust="spacingAndGlyphs" fill="#000" stroke="#000" stroke-width="1.00" stroke-linejoin="round">0.0</text>
<text x="46.80" y="591.42" font-family='"Liberation Sans", "DejaVu Sans", sans-serif' font-size="23.80" textLength="36.61" lengthAdjust="spacingAndGlyphs" fill="#000" stroke="#000" stroke-width="1.00" stroke-linejoin="round">0.5</text>
<text x="48.79" y="455.84" font-family='"Liberation Sans", "DejaVu Sans", sans-serif' font-size="23.80" textLength="33.51" lengthAdjust="spacingAndGlyphs" fill="#000" stroke="#000" stroke-width="1.00" stroke-linejoin="round">1.0</text>
<text x="48.79" y="320.26" font-family='"Liberation Sans", "DejaVu Sans", sans-serif' font-size="24.14" textLength="33.97" lengthAdjust="spacingAndGlyphs" fill="#000" stroke="#000" stroke-width="1.00" stroke-linejoin="round">1.5</text>
<text x="46.31" y="184.68" font-family='"Liberation Sans", "DejaVu Sans", sans-serif' font-size="23.80" textLength="35.99" lengthAdjust="spacingAndGlyphs" fill="#000" stroke="#000" stroke-width="1.00" stroke-linejoin="round">2.0</text>
<text x="46.28" y="56.20" font-family='"Liberation Sans", "DejaVu Sans", sans-serif' font-size="23.52" textLength="36.71" lengthAdjust="spacingAndGlyphs" fill="#000" stroke="#000" stroke-width="1.00" stroke-linejoin="round">2.5</text>
<text x="926.80" y="718.30" font-family='"Liberation Sans", "DejaVu Sans", sans-serif' font-size="23.94" textLength="36.00" lengthAdjust="spacingAndGlyphs" fill="#000" stroke="#000" stroke-width="1.00" stroke-linejoin="round">0.0</text>
<text x="926.80" y="501.03" font-family='"Liberation Sans", "DejaVu Sans", sans-serif' font-size="23.80" textLength="36.92" lengthAdjust="spacingAndGlyphs" fill="#000" stroke="#000" stroke-width="1.00" stroke-linejoin="round">0.5</text>
<text x="929.09" y="275.07" font-family='"Liberation Sans", "DejaVu Sans", sans-serif' font-size="23.80" textLength="33.51" lengthAdjust="spacingAndGlyphs" fill="#000" stroke="#000" stroke-width="1.00" stroke-linejoin="round">1.0</text>
<text x="929.09" y="55.90" font-family='"Liberation Sans", "DejaVu Sans", sans-serif' font-size="23.86" textLength="33.59" lengthAdjust="spacingAndGlyphs" fill="#000" stroke="#000" stroke-width="1.00" stroke-linejoin="round">1.5</text>
<text x="406.00" y="781.50" font-family='"DejaVu Sans", "Liberation Sans", sans-serif' font-size="20.41" textLength="127.22" lengthAdjust="spacingAndGlyphs" fill="#000" stroke="#000" stroke-width="1.10" stroke-linejoin="round">Wavelength</text>
<text x="547.92" y="784.80" font-family='"DejaVu Sans", "Liberation Sans", sans-serif' font-size="27.53" textLength="6.18" lengthAdjust="spacingAndGlyphs" fill="#000" stroke="#000" stroke-width="1.90" stroke-linejoin="round">[</text>
<text x="557.25" y="781.50" font-family='"DejaVu Sans", "Liberation Sans", sans-serif' font-size="20.41" textLength="34.61" lengthAdjust="spacingAndGlyphs" fill="#000" stroke="#000" stroke-width="1.10" stroke-linejoin="round">nm</text>
<text x="595.59" y="784.80" font-family='"DejaVu Sans", "Liberation Sans", sans-serif' font-size="27.53" textLength="7.06" lengthAdjust="spacingAndGlyphs" fill="#000" stroke="#000" stroke-width="1.90" stroke-linejoin="round">]</text>
<text transform="rotate(-90)" x="-578.45" y="24.40" font-family='"DejaVu Sans", "Liberation Sans", sans-serif' font-size="19.59" textLength="92.90" lengthAdjust="spacingAndGlyphs" fill="#000" stroke="#000" stroke-width="0.80" stroke-linejoin="round">Spectral</text>
<text transform="rotate(-90)" x="-472.07" y="24.40" font-family='"DejaVu Sans", "Liberation Sans", sans-serif' font-size="19.59" textLength="115.08" lengthAdjust="spacingAndGlyphs" fill="#000" stroke="#000" stroke-width="0.80" stroke-linejoin="round">Irradiance</text>
<text transform="rotate(-90)" x="-343.80" y="26.20" font-family='"DejaVu Sans", "Liberation Sans", sans-serif' font-size="27.42" textLength="7.49" lengthAdjust="spacingAndGlyphs" fill="#000" stroke="#000" stroke-width="1.80" stroke-linejoin="round">[</text>
<text transform="rotate(-90)" x="-333.90" y="24.40" font-family='"DejaVu Sans", "Liberation Sans", sans-serif' font-size="19.59" textLength="17.02" lengthAdjust="spacingAndGlyphs" fill="#000" stroke="#000" stroke-width="0.80" stroke-linejoin="round">W</text>
<text transform="rotate(-90)" x="-298.58" y="24.40" font-family='"DejaVu Sans", "Liberation Sans", sans-serif' font-size="19.59" textLength="18.74" lengthAdjust="spacingAndGlyphs" fill="#000" stroke="#000" stroke-width="0.80" stroke-linejoin="round">m</text>
<text transform="rotate(-90)" x="-280.17" y="13.00" font-family='"DejaVu Sans", "Liberation Sans", sans-serif' font-size="11.76" textLength="20.22" lengthAdjust="spacingAndGlyphs" fill="#000" stroke="#000" stroke-width="0.80" stroke-linejoin="round">&#8722;2</text>
<text transform="rotate(-90)" x="-247.15" y="24.40" font-family='"DejaVu Sans", "Liberation Sans", sans-serif' font-size="19.59" textLength="26.82" lengthAdjust="spacingAndGlyphs" fill="#000" stroke="#000" stroke-width="0.80" stroke-linejoin="round">nm</text>
<text transform="rotate(-90)" x="-211.09" y="13.00" font-family='"DejaVu Sans", "Liberation Sans", sans-serif' font-size="11.92" textLength="19.21" lengthAdjust="spacingAndGlyphs" fill="#000" stroke="#000" stroke-width="0.80" stroke-linejoin="round">&#8722;1</text>
<text transform="rotate(-90)" x="-190.31" y="27.90" font-family='"DejaVu Sans", "Liberation Sans", sans-serif' font-size="27.75" textLength="8.20" lengthAdjust="spacingAndGlyphs" fill="#000" stroke="#000" stroke-width="1.80" stroke-linejoin="round">]</text>
<text transform="rotate(-90)" x="-484.32" y="988.50" font-family='"DejaVu Sans", "Liberation Sans", sans-serif' font-size="20.55" textLength="36.15" lengthAdjust="spacingAndGlyphs" fill="#000" stroke="#000" stroke-width="0.80" stroke-linejoin="round">SSI</text>
<text transform="rotate(-90)" x="-436.30" y="988.50" font-family='"DejaVu Sans", "Liberation Sans", sans-serif' font-size="20.55" textLength="109.40" lengthAdjust="spacingAndGlyphs" fill="#000" stroke="#000" stroke-width="0.80" stroke-linejoin="round">Variability</text>
<text transform="rotate(-90)" x="-312.20" y="992.10" font-family='"DejaVu Sans", "Liberation Sans", sans-serif' font-size="27.53" textLength="7.53" lengthAdjust="spacingAndGlyphs" fill="#000" stroke="#000" stroke-width="1.80" stroke-linejoin="round">[</text>
<text transform="rotate(-90)" x="-302.69" y="988.50" font-family='"DejaVu Sans", "Liberation Sans", sans-serif' font-size="20.55" textLength="15.41" lengthAdjust="spacingAndGlyphs" fill="#000" stroke="#000" stroke-width="0.80" stroke-linejoin="round">%</text>
<text transform="rotate(-90)" x="-284.17" y="992.10" font-family='"DejaVu Sans", "Liberation Sans", sans-serif' font-size="27.53" textLength="8.45" lengthAdjust="spacingAndGlyphs" fill="#000" stroke="#000" stroke-width="1.80" stroke-linejoin="round">]</text>
<g clip-path="url(#pc2)" fill="none" stroke-linejoin="round">
<path d="M162.9 540.3V561.2M164.2 542.3V567.8M165.4 546.2V573.7M166.7 543.7V580.5M167.9 542.2V582.6M169.2 547.6V585.1M170.4 548.9V592.0M171.7 550.3V592.4M172.9 551.8V599.1M174.2 559.3V605.2M175.4 556.2V602.3M176.7 552.5V606.0M177.9 565.6V639.6M179.2 604.2V641.7M180.4 605.9V646.7M181.7 601.9V649.7M182.9 603.5V649.8M184.2 603.4V648.1M185.4 607.2V650.5M186.7 605.4V650.7M187.9 604.2V650.3M189.2 606.6V650.3M190.4 605.4V648.7M191.7 605.4V647.2M192.9 603.8V642.4M194.2 605.7V637.8" stroke="#b0d6fa" stroke-width="1.6"/>
<path d="M140.9 39.0V172.8M142.1 39.0V165.0M143.3 39.0V200.0M144.5 39.0V226.0M145.7 39.0V226.0M146.9 39.0V300.0M147.9 39.0V312.0M149.0 39.0V316.0M150.1 94.0V316.0M151.2 240.0V312.0M152.4 240.0V310.0M154.4 190.0V310.0" stroke="#b0d6fa" stroke-width="1.6"/>
<polyline points="153.6,107.4 153.6,310.0 156.1,320.0 157.3,335.0 158.6,335.0 158.9,370.0 160.2,395.0 161.6,398.0 161.8,415.0 162.6,450.0 163.1,500.0 162.8,545.0" stroke="#b0d6fa" stroke-width="2.7"/>
<polyline points="187.4,428.8 187.6,602.0" stroke="#b0d6fa" stroke-width="2.7"/>
<polyline points="168.6,541.0 169.2,538.0" stroke="#b0d6fa" stroke-width="2.7"/>
<polyline points="194.2,615.0 196.0,622.0 197.5,625.0 199.0,632.0 200.5,640.0 201.5,648.0 202.0,655.0 203.8,665.0 205.5,668.0 207.5,670.0 209.0,675.0 210.5,672.0 212.5,677.7 214.0,681.0 215.0,683.0 216.2,680.0 217.5,686.4 219.0,682.0 220.5,688.0 222.0,681.0 223.8,680.0 225.0,686.0 226.3,683.0 227.5,687.7 228.7,693.0 230.0,697.7" stroke="#b0d6fa" stroke-width="2.7"/>
<polyline points="194.2,615.0 196.0,622.0 197.5,625.0 199.0,632.0 200.5,640.0 201.5,648.0 202.0,655.0 203.8,665.0 205.5,668.0 207.5,670.0 209.0,675.0 210.5,672.0 212.5,677.7 214.0,681.0 215.0,683.0 216.2,680.0 217.5,686.4 219.0,682.0 220.5,688.0 222.0,681.0 223.8,680.0 225.0,686.0 226.3,683.0 227.5,687.7 228.7,693.0 230.0,697.7 231.5,694.0 233.0,695.0 235.0,699.0 237.6,699.0 240.0,697.5 242.0,700.0 246.0,701.0 250.0,702.7 256.0,703.5 262.6,704.0 268.0,704.8 275.0,705.2 287.0,706.0 300.0,707.2 312.0,708.0 325.0,708.5 345.3,709.5 360.0,709.8 375.4,709.5 383.0,707.7 388.0,709.5 394.0,707.5 400.4,705.2 404.0,704.0 408.0,702.2 412.0,701.0 415.4,699.0 420.0,694.7 425.5,705.2 430.5,710.2 438.0,711.5 450.0,712.0 465.0,710.2 478.0,711.5 490.0,711.0 507.6,711.5 522.7,709.5 540.0,710.2 557.7,708.2 570.0,709.5 580.3,709.5 590.3,709.5 602.8,706.5 615.4,707.2 622.0,704.0 630.4,700.2 636.1,703.2 641.4,705.9 643.7,704.7 644.4,657.7 645.9,650.0 649.0,643.2 652.8,648.6 659.6,644.0 665.7,628.8 670.2,647.0 675.5,644.0 681.6,633.4 686.1,636.4 690.7,641.7 696.4,444.2 700.6,636.0 701.3,635.7 705.0,626.4 708.9,625.8 711.3,625.1 716.5,631.9 717.6,632.6 722.6,627.3 731.4,612.6 736.4,626.4 741.4,627.6 748.9,612.6 755.2,597.6 760.2,616.4 765.2,618.9 768.9,602.6 773.9,610.1 778.9,607.6 781.5,300.0 783.8,133.0 785.5,300.0 788.2,587.0 792.5,598.4 796.8,584.0 801.3,587.0 811.5,573.8 819.0,561.8 826.6,561.8 831.7,550.4 836.2,565.6 848.1,554.7 860.7,527.7 865.8,533.5 869.6,532.7 877.2,516.3 881.0,515.8 889.3,500.6 893.1,509.2 899.9,502.4 905.0,489.7 912.6,476.3 916.4,483.4 919.6,458.6" stroke="#b0d6fa" stroke-width="2.7"/>
<polyline points="194.2,615.0 196.0,622.0 197.5,625.0 199.0,632.0 200.5,640.0 201.5,648.0 202.0,655.0 203.8,665.0 205.5,668.0 207.5,670.0 209.0,675.0 210.5,672.0 212.5,677.7 214.0,681.0 215.0,683.0 216.2,680.0 217.5,686.4 219.0,682.0 220.5,688.0 222.0,681.0 223.8,680.0 225.0,686.0 226.3,683.0 227.5,687.7 228.7,693.0 230.0,697.7" stroke="#b0d6fa" stroke-width="4.2"/>
<polyline points="153.6,107.4 153.6,310.0 156.1,320.0 157.3,335.0 158.6,335.0 158.9,370.0 160.2,395.0 161.6,398.0 161.8,415.0 162.6,450.0 163.1,500.0 162.8,545.0" stroke="#b0d6fa" stroke-width="3.1"/>
<line x1="91.0" y1="709.3" x2="919.6" y2="709.3" stroke="#6ce01c" stroke-width="3.1" stroke-dasharray="27.8 14.9"/>
</g>
</svg>
</body></html>
